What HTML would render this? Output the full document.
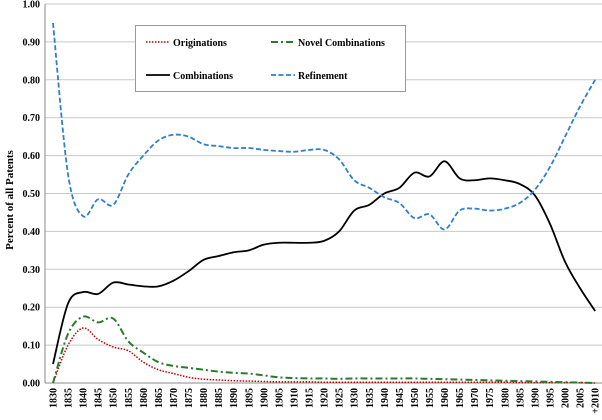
<!DOCTYPE html>
<html><head><meta charset="utf-8"><style>
body{margin:0;background:#fff}
text{font-family:"Liberation Serif",serif;font-weight:bold;fill:#000}
</style></head><body>
<svg id="s" width="602" height="415" xmlns="http://www.w3.org/2000/svg">
<g id="grid" stroke="#c8c8c8" stroke-width="1"></g>
<line x1="45" y1="4" x2="45" y2="383" stroke="#888"/>
<g id="yl" font-size="10"></g>
<g id="xl" font-size="10"></g>
<text transform="translate(13,200) rotate(-90)" text-anchor="middle" font-size="11">Percent of all Patents</text>
<g id="lines" fill="none"></g>
<rect x="135.5" y="25.5" width="270" height="66" fill="#fff" stroke="#999"/>
<line x1="146" y1="42" x2="170" y2="42" stroke="#c00000" stroke-width="1.5" stroke-dasharray="1.5,1.5"/>
<text x="173" y="46" font-size="10">Originations</text>
<line x1="271" y1="42" x2="295" y2="42" stroke="#2a7a2a" stroke-width="2" stroke-dasharray="7,3,2,3"/>
<text x="298" y="46" font-size="10">Novel Combinations</text>
<line x1="146" y1="75" x2="170" y2="75" stroke="#000" stroke-width="1.8"/>
<text x="173" y="79" font-size="10">Combinations</text>
<line x1="271" y1="75" x2="295" y2="75" stroke="#2e7fd0" stroke-width="1.8" stroke-dasharray="5,2.5"/>
<text x="298" y="79" font-size="10">Refinement</text>
</svg>
<script>
var NS="http://www.w3.org/2000/svg";
function el(p,t,a,txt){var e=document.createElementNS(NS,t);for(var k in a)e.setAttribute(k,a[k]);if(txt!=null)e.textContent=txt;document.getElementById(p).appendChild(e);return e;}
var Y=function(v){return 383-v*379;};
var X=function(i){return 53+i*15.06;};
for(var i=0;i<=10;i++){var y=Y(i/10);if(i>0)el("grid","line",{x1:45,x2:602,y1:y,y2:y});
el("yl","text",{x:40,y:y+3.5,"text-anchor":"end"},(i/10).toFixed(2));}
el("grid","line",{x1:45,x2:602,y1:383,y2:383,stroke:"#888"});
for(var i=0;i<37;i++){var x=X(i);var lab=i==36?"+2010":String(1830+5*i);
el("xl","text",{transform:"translate("+(x+3.5)+",388) rotate(-90)","text-anchor":"end"},lab);}
var ref=[.95,.55,.44,.485,.47,.55,.60,.64,.655,.65,.63,.625,.62,.62,.615,.612,.61,.615,.615,.59,.535,.515,.49,.475,.435,.445,.405,.455,.46,.455,.46,.475,.51,.57,.65,.73,.80];
var com=[.05,.21,.24,.235,.265,.26,.255,.255,.27,.295,.325,.335,.345,.35,.365,.37,.37,.37,.375,.40,.455,.47,.50,.515,.555,.545,.585,.54,.535,.54,.535,.525,.495,.42,.32,.25,.19];
var nov=[0,.13,.175,.16,.17,.11,.08,.055,.045,.04,.035,.03,.027,.025,.02,.015,.013,.012,.012,.011,.012,.012,.012,.012,.012,.011,.01,.009,.008,.007,.006,.005,.004,.003,.002,.001,0];
var ori=[0,.10,.145,.115,.095,.085,.055,.035,.025,.015,.01,.008,.006,.005,.004,.003,.003,.003,.002,.002,.002,.002,.002,.002,.002,.002,.002,.002,.002,.002,.002,.001,.001,.001,.001,.001,0];
function path(d){var p=d.map(function(v,i){return [X(i),Y(v)];});var s="M"+p[0][0]+","+p[0][1];
for(var i=0;i<p.length-1;i++){var a=p[Math.max(i-1,0)],b=p[i],c=p[i+1],e=p[Math.min(i+2,p.length-1)];
s+=" C"+(b[0]+(c[0]-a[0])/6)+","+(b[1]+(c[1]-a[1])/6)+" "+(c[0]-(e[0]-b[0])/6)+","+(c[1]-(e[1]-b[1])/6)+" "+c[0]+","+c[1];}return s;}
el("lines","path",{d:path(ori),stroke:"#c00000","stroke-width":1.5,"stroke-dasharray":"1.5,1.5"});
el("lines","path",{d:path(nov),stroke:"#2a7a2a","stroke-width":2,"stroke-dasharray":"7,3,2,3"});
el("lines","path",{d:path(com),stroke:"#000","stroke-width":1.8});
el("lines","path",{d:path(ref),stroke:"#2e7fd0","stroke-width":1.8,"stroke-dasharray":"5,2.5"});
</script>
</body></html>
